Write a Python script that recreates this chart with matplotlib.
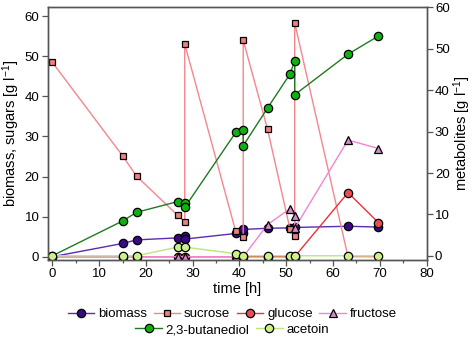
import matplotlib
matplotlib.use("Agg")
import matplotlib.pyplot as plt
from matplotlib.ticker import MultipleLocator

plt.rcParams.update({
    "font.family": ["Liberation Sans", "DejaVu Sans"],
    "font.size": 9.5,
    "mathtext.default": "regular",
    "axes.edgecolor": "#555555",
    "xtick.color": "#555555",
    "ytick.color": "#555555",
    "xtick.labelcolor": "black",
    "ytick.labelcolor": "black",
})

# sampling times [h] and concentrations [g/l]
biomass_t = [0, 15, 18, 26.8, 28.3, 28.3, 39.2, 40.8, 40.8, 46, 50.8, 51.8, 63.2, 69.7]
biomass_y = [0, 3.3, 4.2, 4.7, 5.1, 4.4, 5.8, 5.9, 6.8, 7.1, 7.2, 7.3, 7.6, 7.4]

sucrose_t = [0, 15, 18, 26.8, 28.3, 28.3, 39.2, 40.8, 40.8, 46, 50.8, 51.8, 51.8, 63.2, 69.7]
sucrose_y = [48.5, 25.2, 20.1, 10.3, 8.7, 53.1, 6.3, 4.8, 54.0, 31.8, 6.9, 5.2, 58.4, 0, 0]

glucose_t = [0, 15, 18, 26.8, 28.3, 39.2, 40.8, 46, 50.8, 51.8, 63.2, 69.7]
glucose_y = [0, 0, 0, 0, 0, 0, 0, 0, 0, 0, 16.0, 8.5]

fructose_t = [0, 15, 18, 26.8, 28.3, 39.2, 40.8, 46, 50.8, 51.8, 51.8, 63.2, 69.7]
fructose_y = [0, 0, 0, 0, 0, 0, 0, 8.0, 12.0, 10.1, 7.1, 29.1, 27.0]

bdo_t = [0, 15, 18, 26.8, 28.3, 28.3, 39.2, 40.8, 40.8, 46, 50.8, 51.8, 51.8, 63.2, 69.7]
bdo_y = [0, 8.4, 10.5, 13.1, 12.8, 11.7, 29.8, 30.4, 26.6, 35.7, 43.9, 47.1, 38.9, 48.7, 53.1]

acetoin_t = [0, 15, 18, 26.8, 28.3, 39.2, 40.8, 46, 50.8, 51.8, 63.2, 69.7]
acetoin_y = [0, 0, 0, 2.1, 2.1, 0.5, 0, 0, 0, 0, 0, 0]

fig = plt.figure(figsize=(4.74, 3.38), dpi=100)
ax = fig.add_axes([0.1006, 0.231, 0.7994, 0.747])
ax2 = ax.twinx()

mk = dict(markeredgecolor="black", markeredgewidth=0.9, linewidth=1.0)

h1, = ax.plot(biomass_t, biomass_y, color="#5b2bb0", marker="o", ms=6,
              markerfacecolor="#3a0a80", label="biomass", **mk)
h2, = ax.plot(sucrose_t, sucrose_y, color="#f4868e", marker="s", ms=5,
              markerfacecolor="#f07f7f", label="sucrose", **mk)
h3, = ax.plot(glucose_t, glucose_y, color="#e8323c", marker="o", ms=6,
              markerfacecolor="#ee4b52", label="glucose", **mk)
h4, = ax.plot(fructose_t, fructose_y, color="#f285d2", marker="^", ms=6,
              markerfacecolor="#d68ccc", label="fructose", **mk)
h5, = ax2.plot(bdo_t, bdo_y, color="#1f7a1f", marker="o", ms=6,
               markerfacecolor="#10b010", label="2,3-butanediol", **mk)
h6, = ax2.plot(acetoin_t, acetoin_y, color="#b8e878", marker="o", ms=6,
               markerfacecolor="#cdf08a", label="acetoin", **mk)

ax.set_xlim(-1, 80)
ax.set_ylim(-0.8, 62.2)
ax2.set_ylim(-1, 60)

ax.xaxis.set_major_locator(MultipleLocator(10))
ax.xaxis.set_minor_locator(MultipleLocator(5))
ax.yaxis.set_major_locator(MultipleLocator(10))
ax2.yaxis.set_major_locator(MultipleLocator(10))

for a in (ax, ax2):
    a.tick_params(which="major", length=4, width=0.9, pad=2)
    a.tick_params(which="minor", length=2.5, width=0.9)
    for sp in a.spines.values():
        sp.set_linewidth(1.0)

ax.set_xlabel("time [h]", fontsize=10.5, labelpad=1)
ax.set_ylabel("biomass, sugars [g l$^{-1}$]", fontsize=10.5, labelpad=2)
ax2.set_ylabel("metabolites [g l$^{-1}$]", fontsize=10.5, labelpad=1)

leg_kw = dict(frameon=False, fontsize=9.5, handlelength=2.0,
              handletextpad=0.3, columnspacing=0.5, borderaxespad=0)
fig.legend(handles=[h1, h2, h3, h4], ncol=4, loc="center",
           bbox_to_anchor=(0.49, 0.071), **leg_kw)
fig.legend(handles=[h5, h6], ncol=2, loc="center",
           bbox_to_anchor=(0.49, 0.024), **leg_kw)

fig.savefig("out.png", dpi=100)
